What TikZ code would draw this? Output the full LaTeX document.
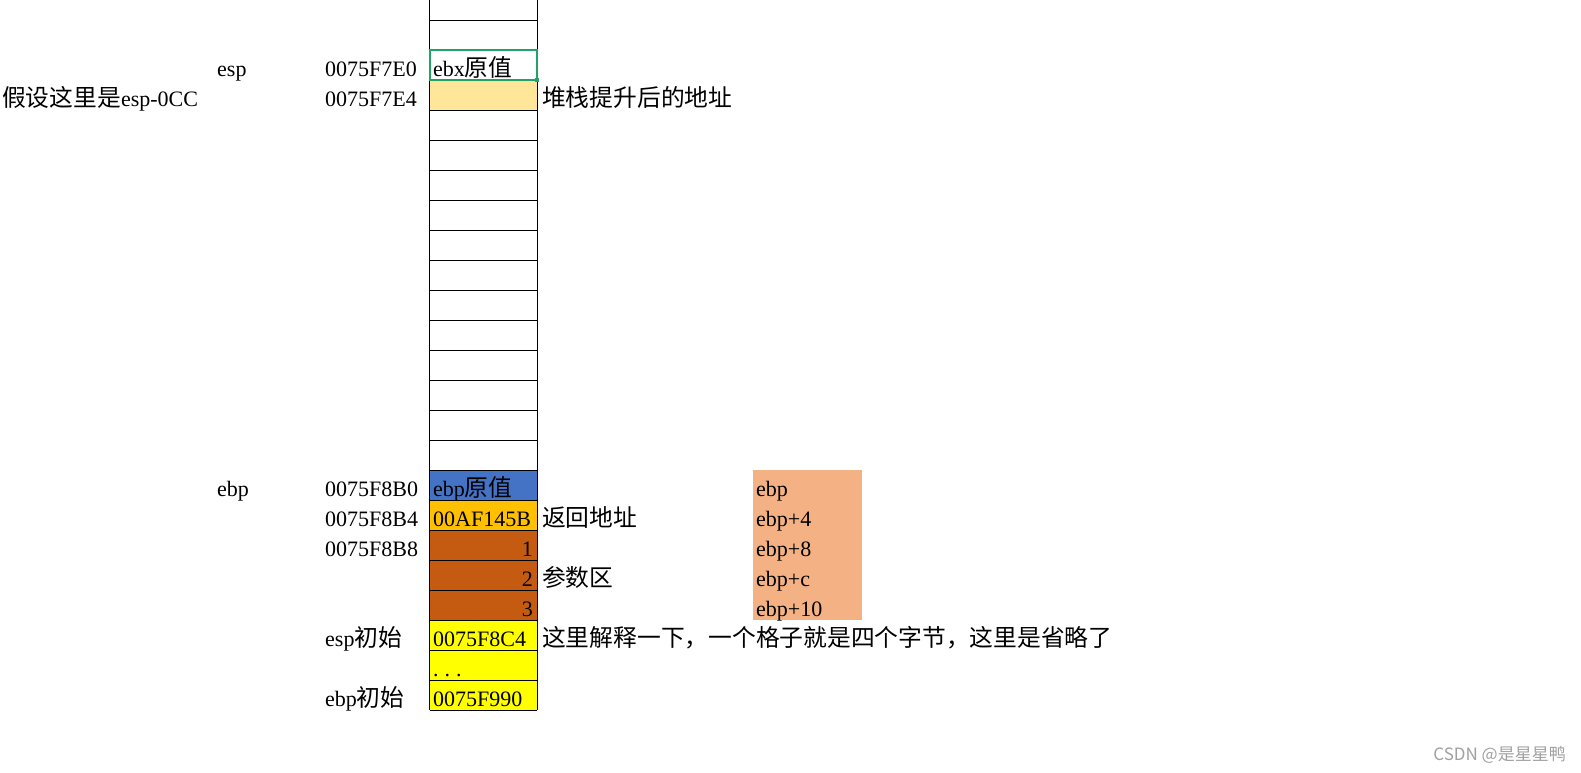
\documentclass[tikz,border=0pt]{standalone}
\usepackage{fontspec}
\setmainfont{Liberation Serif}
\newfontfamily\cjk[Scale=1.08]{Noto Sans CJK SC}
\newfontfamily\wmfont{Noto Sans CJK SC}
\newcommand\cn[1]{{\cjk #1}}
\definecolor{lightyel}{HTML}{FFE699}
\definecolor{cellblue}{HTML}{4472C4}
\definecolor{cellorange}{HTML}{FFC000}
\definecolor{cellbrown}{HTML}{C55A11}
\definecolor{cellyellow}{HTML}{FFFF00}
\definecolor{salmon}{HTML}{F4B183}
\definecolor{selgreen}{RGB}{33,163,102}
\definecolor{wmgray}{HTML}{A0A0A0}
\begin{document}
\begin{tikzpicture}[x=1pt,y=-1pt,
  txt/.style={inner sep=0pt, anchor=base west, font=\fontsize{22}{27}\selectfont},
  rtxt/.style={inner sep=0pt, anchor=base east, font=\fontsize{22}{27}\selectfont},
  gridline/.style={draw=black, line width=1.1pt}]
\useasboundingbox (0,0) rectangle (1581,773);
% fills
\fill[lightyel] (429.7,80.3) rectangle (537.3,110.3);
\fill[cellblue] (429.7,470.3) rectangle (537.3,500.3);
\fill[cellorange] (429.7,500.3) rectangle (537.3,530.3);
\fill[cellbrown] (429.7,530.3) rectangle (537.3,620.3);
\fill[cellyellow] (429.7,620.3) rectangle (537.3,710.3);
\fill[salmon] (753,470.3) rectangle (862,620.3);
% grid
\foreach \k in {0,...,23} {
  \draw[gridline] (429.7,20.3+30*\k) -- (537.3,20.3+30*\k);
}
\draw[gridline] (429.7,-2) -- (429.7,710.3);
\draw[gridline] (537.3,-2) -- (537.3,710.3);
% selection
\draw[selgreen, line width=2pt] (429.7,50.3) rectangle (537.3,80.3);
\fill[selgreen] (535.3,78.3) rectangle (539.3,82.3);
% texts
\node[txt] (espl) at (217,76.3) {esp};
\node[txt] (a1) at (325,76.3) {0075F7E0};
\node[txt] (v1) at (433,76.3) {ebx\cn{原值}};
\node[txt] (assume) at (2,106.3) {\cn{假设这里是}esp-0CC};
\node[txt] (a2) at (325,106.3) {0075F7E4};
\node[txt] (n2) at (542,106.3) {\cn{堆栈提升后的地址}};
\node[txt] (ebpl) at (217,496.3) {ebp};
\node[txt] (a3) at (325,496.3) {0075F8B0};
\node[txt] (v3) at (433,496.3) {ebp\cn{原值}};
\node[txt] (o1) at (756,496.3) {ebp};
\node[txt] (a4) at (325,526.3) {0075F8B4};
\node[txt] (v4) at (433,526.3) {00AF145B};
\node[txt] (n4) at (542,526.3) {\cn{返回地址}};
\node[txt] (o2) at (756,526.3) {ebp+4};
\node[txt] (a5) at (325,556.3) {0075F8B8};
\node[rtxt] (v5) at (533,556.3) {1};
\node[txt] (o3) at (756,556.3) {ebp+8};
\node[rtxt] (v6) at (533,586.3) {2};
\node[txt] (n6) at (542,586.3) {\cn{参数区}};
\node[txt] (o4) at (756,586.3) {ebp+c};
\node[rtxt] (v7) at (533,616.3) {3};
\node[txt] (o5) at (756,616.3) {ebp+10};
\node[txt] (a8) at (325,646.3) {esp\cn{初始}};
\node[txt] (v8) at (433,646.3) {0075F8C4};
\node[txt] (n8) at (542,646.3) {\cn{这里解释一下，一个格子就是四个字节，这里是省略了}};
\node[txt] (v9) at (433,676.3) {.\hspace{6pt}.\hspace{6pt}.};
\node[txt] (a10) at (325,706.3) {ebp\cn{初始}};
\node[txt] (v10) at (433,706.3) {0075F990};
\node[inner sep=0pt, anchor=base east, text=wmgray, font=\wmfont\fontsize{17}{19}\selectfont] (wm) at (1566,760) {CSDN @是星星鸭};
\end{tikzpicture}
\end{document}
